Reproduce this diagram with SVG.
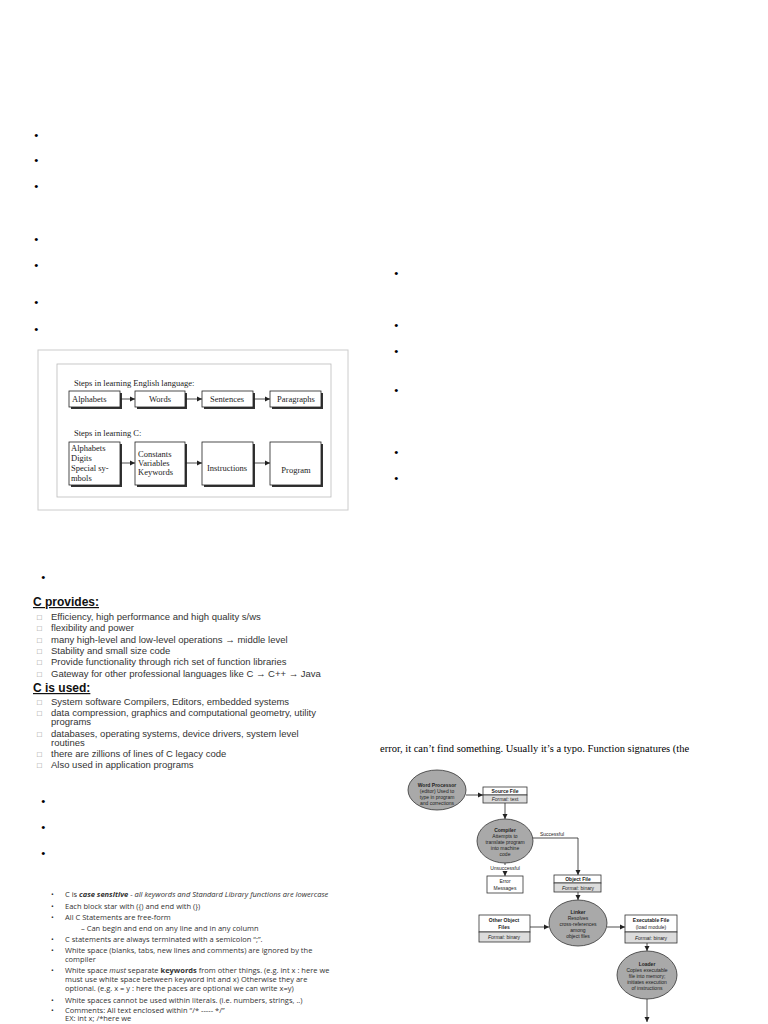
<svg xmlns="http://www.w3.org/2000/svg" width="768" height="1024" viewBox="0 0 768 1024">
<style>
.b{font-family:"Liberation Serif",serif;font-size:13px;fill:#000}
.s{font-family:"Liberation Serif",serif;font-size:8.5px;fill:#222}
.p{font-family:"Liberation Sans",Arial,sans-serif;font-size:9.5px;fill:#333}
.h{font-family:"Liberation Sans",Arial,sans-serif;font-size:12px;font-weight:bold;text-decoration:underline;fill:#111}
.q{font-family:"Liberation Sans",Arial,sans-serif;font-size:8px;fill:#888}
.c{font-family:"Open Sans","Liberation Sans",sans-serif;font-size:7.5px;fill:#333}
.f{font-family:"Liberation Sans",Arial,sans-serif;font-size:5px;fill:#222;text-anchor:middle}
.fb{font-weight:bold}
.fi{font-style:italic}
.el{fill:#a9a9a9;stroke:#333;stroke-width:0.8}
.bx{fill:#fff;stroke:#333;stroke-width:0.8}
.lg{fill:#dcdcdc;stroke:#333;stroke-width:0.8}
.sb{fill:#fff;stroke:#222;stroke-width:0.8}
.sh{fill:#333}
.ln{stroke:#222;stroke-width:0.8;fill:none}
</style>
<defs>
<marker id="a" markerWidth="6" markerHeight="6" refX="5" refY="3" orient="auto" markerUnits="userSpaceOnUse"><path d="M0,0.5 L5,3 L0,5.5 z" fill="#222"/></marker>
</defs>
<rect width="768" height="1024" fill="#fff"/>
<g id="bullets">
<text class="b" x="34" y="140">•</text><text class="b" x="34" y="165">•</text><text class="b" x="34" y="191">•</text>
<text class="b" x="34" y="244">•</text><text class="b" x="34" y="270">•</text><text class="b" x="34" y="307">•</text>
<text class="b" x="34" y="334">•</text>
<text class="b" x="394" y="278">•</text><text class="b" x="394" y="330">•</text><text class="b" x="394" y="356">•</text>
<text class="b" x="394" y="395">•</text><text class="b" x="394" y="457">•</text><text class="b" x="394" y="483">•</text>
<text class="b" x="41" y="582">•</text><text class="b" x="41" y="806">•</text><text class="b" x="41" y="832">•</text><text class="b" x="41" y="858">•</text>
</g>
<g id="steps">
<rect x="38" y="350" width="310" height="160" fill="#fff" stroke="#ccc" stroke-width="1"/>
<rect x="57" y="364" width="274" height="133" fill="#fff" stroke="#bbb" stroke-width="0.8"/>
<text class="s" x="74" y="386">Steps in learning English language:</text>
<g id="e1"><rect class="sh" x="71" y="393" width="51" height="16"/><rect class="sb" x="69" y="391" width="51" height="16"/><text class="s" x="72" y="402">Alphabets</text></g>
<g id="e2"><rect class="sh" x="137" y="393" width="50" height="16"/><rect class="sb" x="135" y="391" width="50" height="16"/><text class="s" x="160" y="402" text-anchor="middle">Words</text></g>
<g id="e3"><rect class="sh" x="204" y="393" width="51" height="16"/><rect class="sb" x="202" y="391" width="51" height="16"/><text class="s" x="227" y="402" text-anchor="middle">Sentences</text></g>
<g id="e4"><rect class="sh" x="272" y="393" width="51" height="16"/><rect class="sb" x="270" y="391" width="51" height="16"/><text class="s" x="296" y="402" text-anchor="middle">Paragraphs</text></g>
<text class="s" x="74" y="436">Steps in learning C:</text>
<g id="c1"><rect class="sh" x="71" y="444" width="51" height="43"/><rect class="sb" x="69" y="442" width="51" height="43"/><text class="s" x="71" y="451">Alphabets</text><text class="s" x="71" y="461">Digits</text><text class="s" x="71" y="471">Special sy-</text><text class="s" x="71" y="481">mbols</text></g>
<g id="c2"><rect class="sh" x="137" y="444" width="50" height="43"/><rect class="sb" x="135" y="442" width="50" height="43"/><text class="s" x="138" y="457">Constants</text><text class="s" x="138" y="466">Variables</text><text class="s" x="138" y="475">Keywords</text></g>
<g id="c3"><rect class="sh" x="204" y="444" width="51" height="43"/><rect class="sb" x="202" y="442" width="51" height="43"/><text class="s" x="227" y="471" text-anchor="middle">Instructions</text></g>
<g id="c4"><rect class="sh" x="272" y="444" width="51" height="43"/><rect class="sb" x="270" y="442" width="51" height="43"/><text class="s" x="296" y="473" text-anchor="middle">Program</text></g>
<g id="steps-connectors">
<line class="ln" x1="120" y1="399" x2="135" y2="399" marker-end="url(#a)"/>
<line class="ln" x1="185" y1="399" x2="202" y2="399" marker-end="url(#a)"/>
<line class="ln" x1="253" y1="399" x2="270" y2="399" marker-end="url(#a)"/>
<line class="ln" x1="120" y1="463" x2="135" y2="463" marker-end="url(#a)"/>
<line class="ln" x1="185" y1="463" x2="202" y2="463" marker-end="url(#a)"/>
<line class="ln" x1="253" y1="463" x2="270" y2="463" marker-end="url(#a)"/>
</g>
</g>
<g id="provides">
<text class="h" x="33" y="606">C provides:</text>
<text class="q" x="37" y="620">□</text><text class="p" x="51" y="620">Efficiency, high performance and high quality s/ws</text>
<text class="q" x="37" y="631">□</text><text class="p" x="51" y="631">flexibility and power</text>
<text class="q" x="37" y="643">□</text><text class="p" x="51" y="643">many high-level and low-level operations → middle level</text>
<text class="q" x="37" y="654">□</text><text class="p" x="51" y="654">Stability and small size code</text>
<text class="q" x="37" y="665">□</text><text class="p" x="51" y="665">Provide functionality through rich set of function libraries</text>
<text class="q" x="37" y="677">□</text><text class="p" x="51" y="677">Gateway for other professional languages like C → C++ → Java</text>
<text class="h" x="33" y="692">C is used:</text>
<text class="q" x="37" y="705">□</text><text class="p" x="51" y="705">System software Compilers, Editors, embedded systems</text>
<text class="q" x="37" y="716">□</text><text class="p" x="51" y="716">data compression, graphics and computational geometry, utility</text>
<text class="p" x="51" y="725">programs</text>
<text class="q" x="37" y="737">□</text><text class="p" x="51" y="737">databases, operating systems, device drivers, system level</text>
<text class="p" x="51" y="746">routines</text>
<text class="q" x="37" y="757">□</text><text class="p" x="51" y="757">there are zillions of lines of C legacy code</text>
<text class="q" x="37" y="768">□</text><text class="p" x="51" y="768">Also used in application programs</text>
</g>
<g id="rules">
<text class="c" x="51" y="897">•</text><text class="c" x="65" y="897">C is <tspan class="fb fi">case sensitive</tspan> <tspan class="fi">- all keywords and Standard Library functions are lowercase</tspan></text>
<text class="c" x="51" y="909">•</text><text class="c" x="65" y="909">Each block star with ({) and end with (})</text>
<text class="c" x="51" y="920">•</text><text class="c" x="65" y="920">All C Statements are free-form</text>
<text class="c" x="81" y="931">– Can begin and end on any line and in any column</text>
<text class="c" x="51" y="942">•</text><text class="c" x="65" y="942">C statements are always terminated with a semicolon “;”.</text>
<text class="c" x="51" y="953">•</text><text class="c" x="65" y="953">White space (blanks, tabs, new lines and comments) are ignored by the</text>
<text class="c" x="65" y="962">compiler</text>
<text class="c" x="51" y="973">•</text><text class="c" x="65" y="973">White space <tspan class="fi">must</tspan> separate <tspan class="fb">keywords</tspan> from other things. (e.g. int x : here we</text>
<text class="c" x="65" y="982">must use white space between keyword int and x) Otherwise they are</text>
<text class="c" x="65" y="991">optional. (e.g. x = y : here the paces are optional we can write x=y)</text>
<text class="c" x="51" y="1003">•</text><text class="c" x="65" y="1003">White spaces cannot be used within literals. (i.e. numbers, strings, ..)</text>
<text class="c" x="51" y="1013">•</text><text class="c" x="65" y="1013">Comments: All text enclosed within “/* ----- */”</text>
<text class="c" x="65" y="1021">EX: int x;  /*here we</text>
</g>
<text class="b" x="380" y="752" style="font-size:10.5px">error, it can’t find something. Usually it’s a typo. Function signatures (the</text>
<g id="flow-connectors">
<line class="ln" x1="466" y1="795" x2="483" y2="795" marker-end="url(#a)"/>
<line class="ln" x1="505" y1="803" x2="505" y2="819" marker-end="url(#a)"/>
<polyline class="ln" points="533,838 578,838 578,875" marker-end="url(#a)"/>
<line class="ln" x1="505" y1="863" x2="505" y2="876" marker-end="url(#a)"/>
<line class="ln" x1="578" y1="892" x2="578" y2="900" marker-end="url(#a)"/>
<line class="ln" x1="530" y1="927" x2="549" y2="927" marker-end="url(#a)"/>
<line class="ln" x1="607" y1="927" x2="625" y2="927" marker-end="url(#a)"/>
<line class="ln" x1="647" y1="943" x2="647" y2="951" marker-end="url(#a)"/>
<line class="ln" x1="647" y1="999" x2="647" y2="1022" marker-end="url(#a)"/>
<text class="f" x="552" y="836">Successful</text>
<rect x="490" y="865" width="30" height="6" fill="#fff"/>
<text class="f" x="505" y="870">Unsuccessful</text>
</g>
<g id="wp"><ellipse class="el" cx="437" cy="790" rx="29" ry="20"/><text class="f" x="437" y="787"><tspan class="fb">Word Processor</tspan></text><text class="f" x="437" y="793">(editor) Used to</text><text class="f" x="437" y="799">type in program</text><text class="f" x="437" y="805">and corrections</text></g>
<g id="src"><rect class="bx" x="483" y="787" width="44" height="8"/><rect class="lg" x="483" y="795" width="44" height="8"/><text class="f fb" x="505" y="793">Source File</text><text class="f" x="505" y="801"><tspan class="fi">Format:</tspan> text</text></g>
<g id="compiler"><ellipse class="el" cx="505" cy="841" rx="28" ry="22"/><text class="f fb" x="505" y="832">Compiler</text><text class="f" x="505" y="838">Attempts to</text><text class="f" x="505" y="844">translate program</text><text class="f" x="505" y="850">into machine</text><text class="f" x="505" y="856">code</text></g>
<g id="err"><rect class="bx" x="487" y="876" width="36" height="17"/><text class="f" x="505" y="883">Error</text><text class="f" x="505" y="890">Messages</text></g>
<g id="obj"><rect class="bx" x="554" y="875" width="47" height="8"/><rect class="lg" x="554" y="883" width="47" height="9"/><text class="f fb" x="578" y="881">Object File</text><text class="f" x="578" y="890"><tspan class="fi">Format:</tspan> binary</text></g>
<g id="linker"><ellipse class="el" cx="578" cy="923" rx="29" ry="23"/><text class="f fb" x="578" y="914">Linker</text><text class="f" x="578" y="920">Resolves</text><text class="f" x="578" y="926">cross-references</text><text class="f" x="578" y="932">among</text><text class="f" x="578" y="938">object files</text></g>
<g id="other"><rect class="bx" x="479" y="915" width="51" height="17"/><rect class="lg" x="479" y="932" width="51" height="10"/><text class="f fb" x="504" y="922">Other Object</text><text class="f fb" x="504" y="929">Files</text><text class="f" x="504" y="939"><tspan class="fi">Format:</tspan> binary</text></g>
<g id="exe"><rect class="bx" x="625" y="915" width="52" height="17"/><rect class="lg" x="625" y="932" width="52" height="11"/><text class="f fb" x="651" y="922">Executable File</text><text class="f" x="651" y="929">(load module)</text><text class="f" x="651" y="940"><tspan class="fi">Format:</tspan> binary</text></g>
<g id="loader"><ellipse class="el" cx="647" cy="975" rx="30" ry="24"/><text class="f fb" x="647" y="966">Loader</text><text class="f" x="647" y="972">Copies executable</text><text class="f" x="647" y="978">file into memory;</text><text class="f" x="647" y="984">initiates execution</text><text class="f" x="647" y="990">of instructions</text></g>
</svg>
